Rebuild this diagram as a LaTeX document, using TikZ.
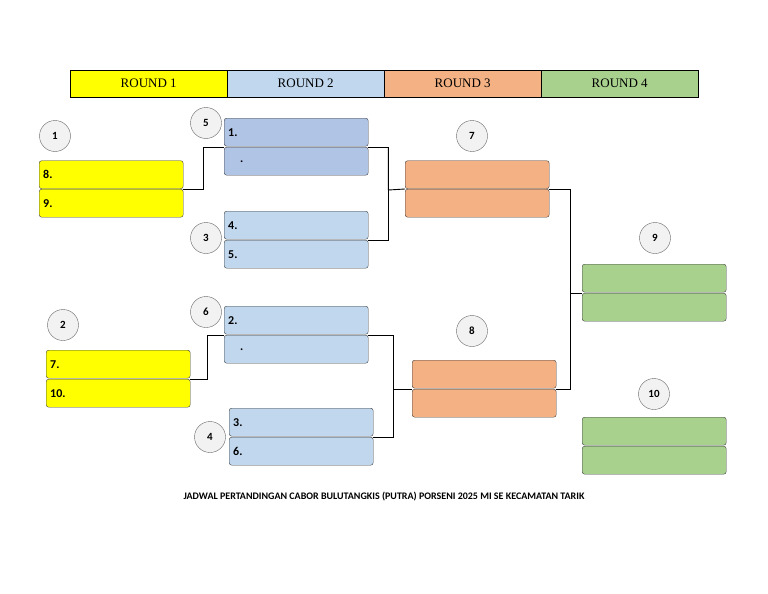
\documentclass[tikz,border=0pt]{standalone}
\usepackage{fontspec}
\setmainfont{Carlito}
\newfontfamily\hdr{Liberation Serif}
\begin{document}
\begin{tikzpicture}[x=1pt,y=-1pt,
 slot/.style={draw=black!75,rounded corners=2.5pt,minimum width=144pt,minimum height=28pt,anchor=north west,inner sep=0pt,font=\bfseries\fontsize{12}{14}\selectfont,text width=136pt,align=left},
 num/.style={circle,draw=black!60,fill=black!5,minimum size=31pt,inner sep=0pt,font=\bfseries\fontsize{11}{13}\selectfont},
 hd/.style={draw=black,minimum height=27pt,minimum width=157pt,anchor=north west,inner sep=0pt,font=\hdr\fontsize{13}{15}\selectfont},
 ln/.style={draw=black,line width=0.9pt}]
\definecolor{yl}{HTML}{FFFF00}\definecolor{lb}{HTML}{C0D7EE}\definecolor{db}{HTML}{B0C4E6}
\definecolor{og}{HTML}{F4B183}\definecolor{gr}{HTML}{A9D18E}
\useasboundingbox (0,0) rectangle (768,594);
\node[hd,fill=yl] (h1) at (70,70) {ROUND 1};
\node[hd,fill=lb] (h2) at (227,70) {ROUND 2};
\node[hd,fill=og] (h3) at (384,70) {ROUND 3};
\node[hd,fill=gr] (h4) at (541,70) {ROUND 4};
% match 1
\node[slot,fill=yl] (a1) at (39,160.5) {8.};
\node[slot,fill=yl] (a2) at (39,189) {9.};
\node[num] (c1) at (55,136) {1};
% match 5
\node[slot,fill=db] (b1) at (224,118) {1.};
\node[slot,fill=db] (b2) at (224,147) {\hspace{12pt}.};
\node[num] (c5) at (206,123) {5};
% match 3
\node[slot,fill=lb] (d1) at (224,211) {4.};
\node[slot,fill=lb] (d2) at (224,240) {5.};
\node[num] (c3) at (206,238) {3};
% match 7
\node[slot,fill=og] (e1) at (405,160.5) {};
\node[slot,fill=og] (e2) at (405,189) {};
\node[num] (c7) at (472,136) {7};
% match 9
\node[slot,fill=gr] (f1) at (582,264) {};
\node[slot,fill=gr] (f2) at (582,293) {};
\node[num] (c9) at (655,238) {9};
% match 2
\node[slot,fill=yl] (g1) at (46,350) {7.};
\node[slot,fill=yl] (g2) at (46,379) {10.};
\node[num] (c2) at (63,325) {2};
% match 6
\node[slot,fill=lb] (i1) at (224,306) {2.};
\node[slot,fill=lb] (i2) at (224,335) {\hspace{12pt}.};
\node[num] (c6) at (206,312) {6};
% match 4
\node[slot,fill=lb] (j1) at (229,408) {3.};
\node[slot,fill=lb] (j2) at (229,437) {6.};
\node[num] (c4) at (210,437) {4};
% match 8
\node[slot,fill=og] (k1) at (412,360) {};
\node[slot,fill=og] (k2) at (412,389) {};
\node[num] (c8) at (472,331) {8};
% match 10
\node[slot,fill=gr] (m1) at (582,417) {};
\node[slot,fill=gr] (m2) at (582,446) {};
\node[num] (c10) at (654,394) {10};
% connectors
\draw[ln] (a2.north east) -- ++(20,0) |- (b2.north west);
\draw[ln] (b2.north east) -- ++(20,0) |- (d2.north east);
\draw[ln] (b2.north east) ++(20,0) -- ++(0,43) -- (e2.north west);
\draw[ln] (g2.north east) -- ++(17,0) |- (i2.north west);
\draw[ln] (i2.north east) -- ++(25,0) |- (j2.north east);
\draw[ln] (i2.north east) ++(25,0) -- ++(0,54) -- (k2.north west);
\draw[ln] (e2.north east) -- ++(21,0) |- (k2.north east);
\draw[ln] (e2.north east) ++(21,0) -- ++(0,104) -- (f2.north west);
\node[font=\bfseries\fontsize{10}{12}\selectfont] (t) at (384,497) {JADWAL PERTANDINGAN CABOR BULUTANGKIS (PUTRA) PORSENI 2025 MI SE KECAMATAN TARIK};
\end{tikzpicture}
\end{document}
